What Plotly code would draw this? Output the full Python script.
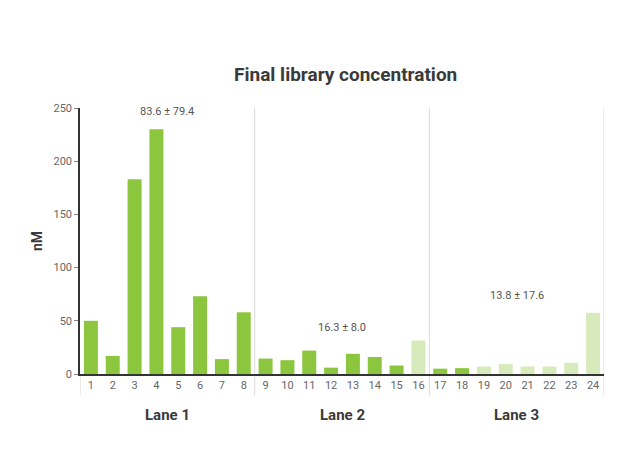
import plotly.graph_objects as go

# sample concentrations (nM)
samples = list(range(1, 25))
conc = [50, 17, 183, 230, 44, 73, 14, 58,
        14.5, 13, 22, 6, 19, 16, 8, 31.5,
        5, 5.5, 7, 9.5, 7, 7, 10.5, 57.5]
# samples shown in the pale colour
pale = [16, 19, 20, 21, 22, 23, 24]

lanes = ['Lane 1', 'Lane 2', 'Lane 3']
lane_mean = [83.6, 16.3, 13.8]
lane_sd = [79.4, 8.0, 17.6]
label_y = [247, 44, 74]

DARK = '#8cc63f'
LIGHT = '#d7eabb'
colors = [LIGHT if s in pale else DARK for s in samples]

fig = go.Figure(go.Bar(
    x=samples,
    y=conc,
    marker_color=colors,
    marker_line_width=0,
))

shapes = []
for b in [0.5, 8.5, 16.5, 24.5]:
    top = 1.0 if b > 0.5 else 0
    shapes.append(dict(type='line', xref='x', yref='paper', x0=b, x1=b,
                       y0=-0.08, y1=top, line=dict(color='#d9d9d9', width=1),
                       layer='below'))

annotations = []
for i, lane in enumerate(lanes):
    center = 4.5 + 8 * i
    annotations.append(dict(x=center, y=-0.154, xref='x', yref='paper',
                            yanchor='middle',
                            text='<b>%s</b>' % lane, showarrow=False,
                            font=dict(size=15, color='#3a3a3a', family='Roboto')))
    annotations.append(dict(x=center, y=label_y[i], xref='x', yref='y',
                            text='%.1f ± %.1f' % (lane_mean[i], lane_sd[i]),
                            showarrow=False,
                            font=dict(size=11, color='#555555', family='Roboto')))

fig.update_layout(
    width=630, height=461,
    margin=dict(l=72, r=34, t=100, b=95),
    paper_bgcolor='white', plot_bgcolor='white',
    title=dict(text='<b>Final library concentration</b>', x=0.536, xanchor='center',
               y=0.856, yanchor='middle',
               font=dict(size=19, color='#3a3a3a', family='Roboto')),
    bargap=0.36,
    showlegend=False,
    shapes=shapes,
    annotations=annotations,
    xaxis=dict(range=[0.5, 24.5], tickmode='array', tickvals=samples,
               showline=True, linecolor='#333333', linewidth=1.5,
               ticks='', showgrid=False, zeroline=False,
               tickfont=dict(size=11, color='#666666', family='Roboto')),
    yaxis=dict(range=[0, 250], tickvals=[0, 50, 100, 150, 200, 250],
               showline=True, linecolor='#333333', linewidth=1.5,
               ticks='outside', ticklen=4, tickcolor='#888888',
               showgrid=False, zeroline=False,
               title=dict(text='<b>nM</b>', standoff=8,
                          font=dict(size=14, color='#3a3a3a', family='Roboto')),
               tickfont=dict(size=11, color='#666666', family='Roboto')),
)

fig.write_html("out.html")
